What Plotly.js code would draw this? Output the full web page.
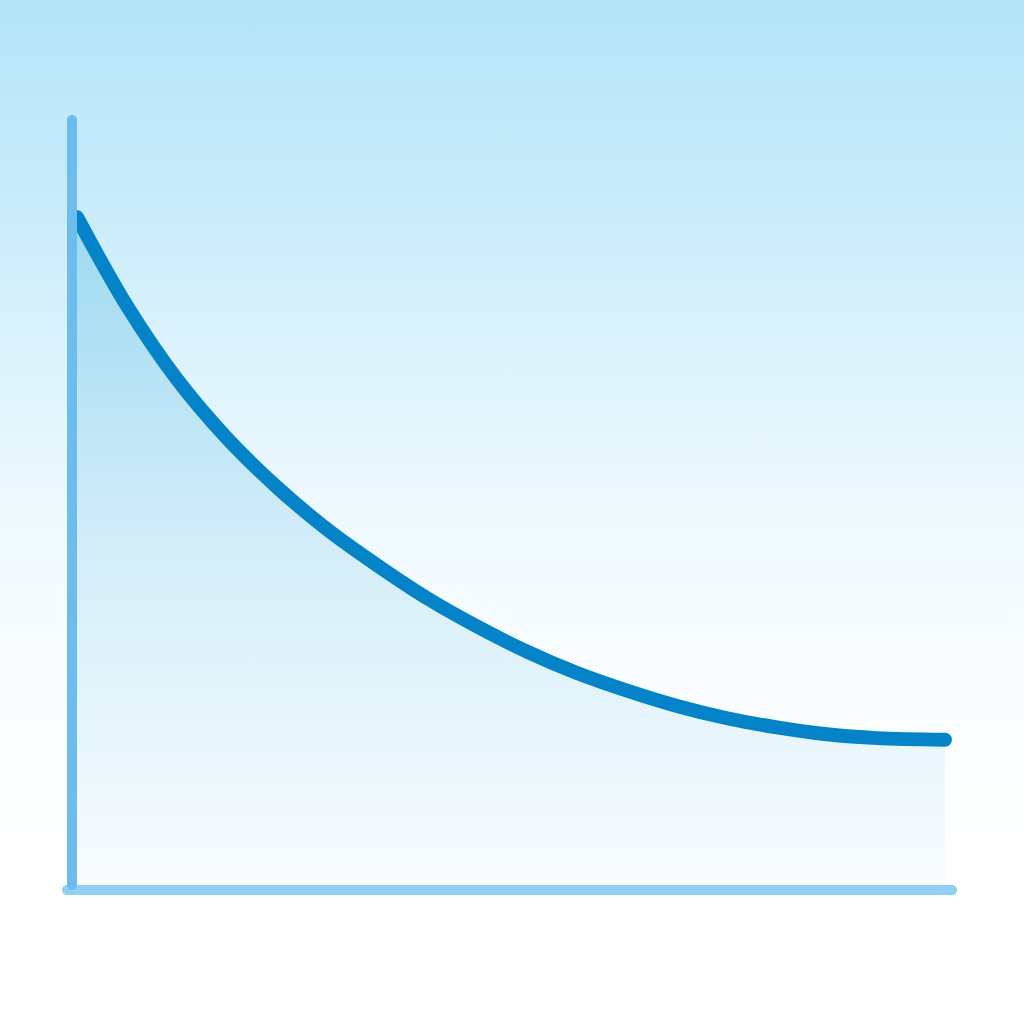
<!DOCTYPE html>
<html>
<head>
<meta charset="utf-8">
<script src="https://cdn.plot.ly/plotly-3.0.1.min.js"></script>
<style>
  html, body { margin: 0; padding: 0; }
  body {
    width: 1024px; height: 1024px;
    background: linear-gradient(to bottom, #b3e4f8 0%, #c9ecfa 20%, #dcf3fc 35%, #eef9fe 50%, #f9fdff 65%, #ffffff 85%);
  }
  #chart { width: 1024px; height: 1024px; }
  /* rounded ends like the reference */
  .scatterlayer path.js-line { stroke-linecap: round; }
  .xlines-above, .ylines-above { stroke-linecap: round; }
</style>
</head>
<body>
<div id="chart"></div>
<script>
// curve (axis units: x 0..10, y 0..10)
const xVals = [0, 0.571, 1.143, 1.714, 2.286, 2.857, 3.429, 4.0, 4.571,
               5.143, 5.714, 6.286, 6.857, 7.429, 8.0, 8.571, 9.143, 9.92];
const yVals = [8.73, 7.57, 6.61, 5.84, 5.20, 4.65, 4.18, 3.75, 3.38,
               3.05, 2.77, 2.54, 2.34, 2.18, 2.06, 1.97, 1.92, 1.90];

const curve = {
    x: xVals,
    y: yVals,
    type: 'scatter',
    mode: 'lines',
    line: { color: '#0583c8', width: 14, shape: 'spline', smoothing: 1, simplify: false },
    fill: 'tozeroy',
    fillgradient: {
        type: 'vertical',
        start: 0,
        stop: 8.7,
        colorscale: [[0, 'rgba(248,252,254,1)'], [0.5, '#d4eef9'], [1, '#9ed9f1']]
    },
    hoverinfo: 'skip'
};

const layout = {
    width: 1024,
    height: 1024,
    margin: { l: 77, r: 72, t: 120, b: 139 },
    paper_bgcolor: 'rgba(0,0,0,0)',
    plot_bgcolor: 'rgba(0,0,0,0)',
    showlegend: false,
    xaxis: {
        range: [0, 10],
        showgrid: false, zeroline: false, showticklabels: false, ticks: '',
        showline: true, linecolor: '#8fd0f4', linewidth: 10
    },
    yaxis: {
        range: [0, 10],
        showgrid: false, zeroline: false, showticklabels: false, ticks: '',
        showline: true, linecolor: '#6cbdee', linewidth: 10
    }
};

Plotly.newPlot('chart', [curve], layout, { displayModeBar: false, staticPlot: true });
</script>
</body>
</html>
